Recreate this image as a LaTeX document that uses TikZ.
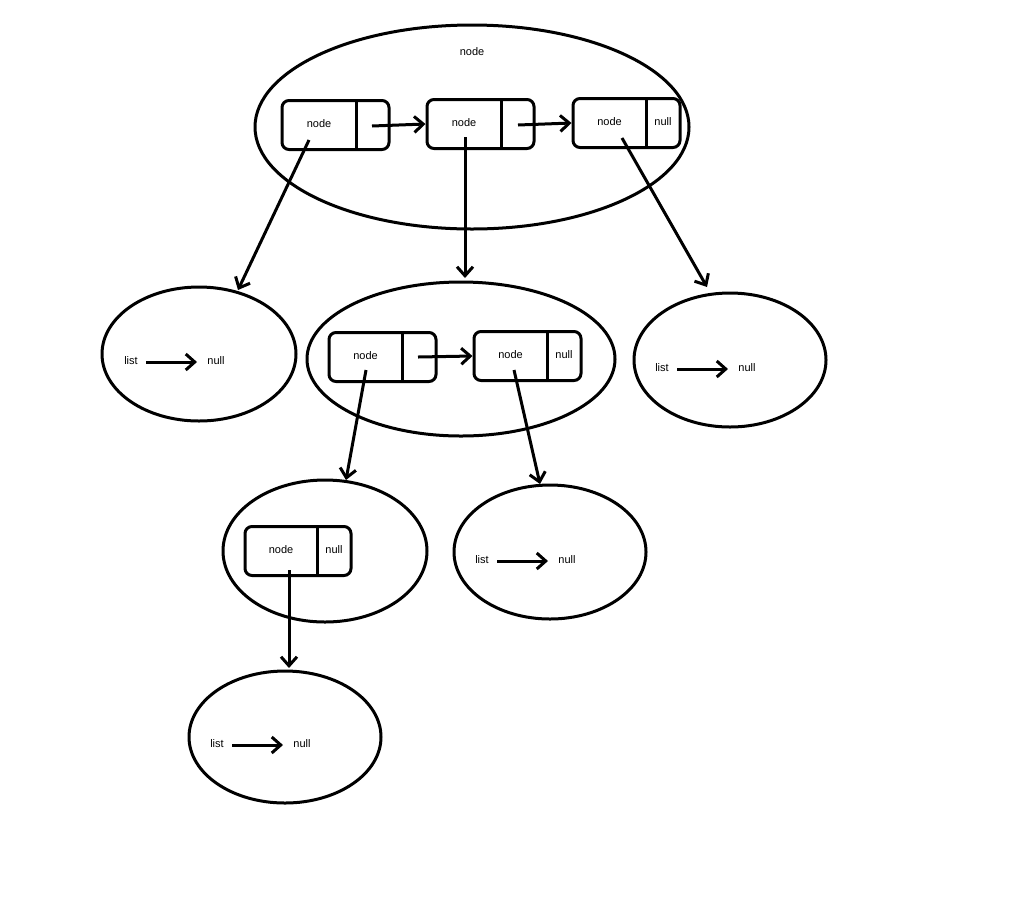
\documentclass[tikz,border=0pt]{standalone}
\usepackage{fontspec}
\setmainfont{Liberation Sans}
\usetikzlibrary{arrows.meta,shapes.geometric}
\begin{document}
\begin{tikzpicture}[x=1pt,y=-1pt,line width=3pt,
  ell/.style={draw,ellipse,inner sep=0pt},
  lbl/.style={font=\fontsize{11}{13}\selectfont,inner sep=1pt},
  arr/.style={-{Straight Barb[length=9pt,width=16pt,line width=3pt]},line width=3pt},
  box/.style={draw,rounded corners=7pt,inner sep=0pt,minimum height=49pt}]
\useasboundingbox (0,0) rectangle (1024,898);
\fill[white] (0,0) rectangle (1024,898);
% ellipses
\node[ell,minimum width=434pt,minimum height=204pt] (E0) at (472,127) {};
\node[ell,minimum width=194pt,minimum height=134pt] (E1) at (199,354) {};
\node[ell,minimum width=308pt,minimum height=154pt] (E2) at (461,359) {};
\node[ell,minimum width=192pt,minimum height=134pt] (E3) at (730,360) {};
\node[ell,minimum width=204pt,minimum height=142pt] (E4) at (325,551) {};
\node[ell,minimum width=192pt,minimum height=134pt] (E5) at (550,552) {};
\node[ell,minimum width=192pt,minimum height=132pt] (E6) at (285,737) {};
\node[lbl] (t0) at (472,52) {node};
% boxes
\newcommand{\mybox}[6]{% name, x1, x2, divider, ymid, right text
  \node[box,minimum width=#3pt-#2pt] (#1) at ({(#2+#3)/2},#5) {};
  \draw (#4,#5-24.5) -- (#4,#5+24.5);
  \node[lbl] (#1n) at ({(#2+#4)/2},#5-1) {node};
  \node[lbl] (#1r) at ({(#4+#3)/2},#5-1) {#6};
}
\mybox{b1}{282}{389}{356}{125}{}
\mybox{b2}{427}{534}{501}{124}{}
\mybox{b3}{573}{680}{646}{123}{null}
\mybox{b4}{329}{436}{402}{357}{}
\mybox{b5}{474}{581}{547}{356}{null}
\mybox{b6}{245}{351}{317}{551}{null}
% coordinates
\coordinate (a1) at (372,126); \coordinate (a2) at (518,125);
\coordinate (a4) at (418,357);
\coordinate (p1s) at (309,140); \coordinate (p1e) at (238,290);
\coordinate (p2s) at (465,137); \coordinate (p2e) at (465,278);
\coordinate (p3s) at (622,138); \coordinate (p3e) at (707,287);
\coordinate (p4s) at (366,370); \coordinate (p4e) at (346,480);
\coordinate (p5s) at (514,370); \coordinate (p5e) at (540,484);
\coordinate (p6s) at (289,570); \coordinate (p6e) at (289,668);
\draw[arr] (a1) -- (b2.west);
\draw[arr] (a2) -- (b3.west);
\draw[arr] (a4) -- (b5.west);
\draw[arr] (p1s) -- (p1e);
\draw[arr] (p2s) -- (p2e);
\draw[arr] (p3s) -- (p3e);
\draw[arr] (p4s) -- (p4e);
\draw[arr] (p5s) -- (p5e);
\draw[arr] (p6s) -- (p6e);
% list -> null
\newcommand{\listnull}[3]{% prefix, x of list, y
  \node[lbl] (#1l) at (#2,#3) {list};
  \node[lbl] (#1n) at (#2+85,#3) {null};
  \draw[arr] (#2+15,#3+1) -- (#2+66,#3+1);
}
\listnull{c1}{131}{361}
\listnull{c3}{662}{368}
\listnull{c5}{482}{560}
\listnull{c6}{217}{744}
\end{tikzpicture}
\end{document}
